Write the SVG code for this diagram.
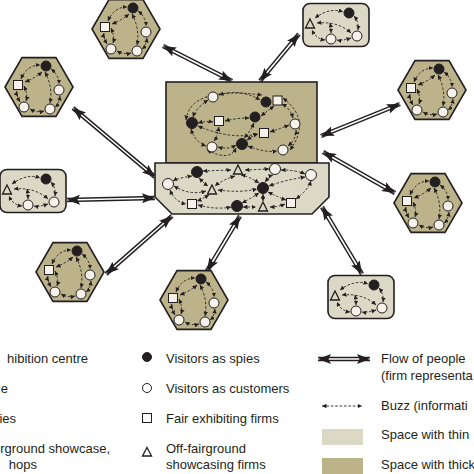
<svg xmlns="http://www.w3.org/2000/svg" xmlns:xlink="http://www.w3.org/1999/xlink" width="474" height="474" viewBox="0 0 474 474">
<style>
.dk{fill:#bdb38b;stroke:#231f20;stroke-width:1.6}
.lt{fill:#dbd8c6;stroke:#231f20;stroke-width:1.6}
.bz{fill:none;stroke:#231f20;stroke-width:0.9;stroke-dasharray:2.6 1.8;marker-start:url(#b);marker-end:url(#b)}
.fc{fill:#231f20;stroke:#231f20;stroke-width:1}
.oc{fill:#f4f2ea;stroke:#231f20;stroke-width:1}
.sq{fill:#f4f2ea;stroke:#231f20;stroke-width:1}
.tr{fill:none;stroke:#231f20;stroke-width:1.3}
.fo{fill:none;stroke:#231f20;stroke-width:4.4}
.fi{fill:none;stroke:#ffffff;stroke-width:1.6}
.fm{fill:none;stroke:none;marker-start:url(#F);marker-end:url(#F)}
text{font-family:"Liberation Sans",Arial,sans-serif;font-size:13px;fill:#231f20}
</style>
<defs>
<marker id="b" viewBox="0 0 6 6" refX="6" refY="3" markerWidth="4.5" markerHeight="4.5" markerUnits="userSpaceOnUse" orient="auto-start-reverse"><path d="M0,0 L6,3 L0,6z" fill="#231f20"/></marker>
<marker id="F" viewBox="0 0 13 10" refX="13" refY="5" markerWidth="13" markerHeight="10" markerUnits="userSpaceOnUse" orient="auto-start-reverse"><path d="M0,0 L13,5 L0,10 L2.5,5z" fill="#231f20"/></marker>
<g id="hx">
<polygon class="dk" points="-34,0 -17,-29.4 17,-29.4 34,0 17,29.4 -17,29.4"/>
<path class="bz" d="M-18,-8 Q-12,-22 1,-22"/>
<path class="bz" d="M12,-18 Q20,-12 20,-3"/>
<path class="bz" d="M21,9 Q20,17 16,20"/>
<path class="bz" d="M5,24 Q-2,26 -9,22"/>
<path class="bz" d="M-19,15 Q-23,8 -22,4"/>
<path class="bz" d="M6,-15 Q14,0 11,16"/>
<path class="bz" d="M-15,-1 Q-11,8 -13,14"/>
<path class="bz" d="M3,-15 Q-4,-9 -14,-5"/>
<circle class="fc" cx="7" cy="-21" r="5"/>
<circle class="oc" cx="20" cy="3" r="5"/>
<circle class="oc" cx="11" cy="22" r="5"/>
<circle class="oc" cx="-15" cy="20" r="5"/>
<rect class="sq" x="-25.5" y="-6.5" width="9" height="9"/>
</g>
<g id="bx">
<rect class="lt" x="-33" y="-21.5" width="66" height="43" rx="7"/>
<path class="bz" d="M-21,-7 Q-6,-18 7,-13"/>
<path class="bz" d="M18,-9 Q23,-3 22,5"/>
<path class="bz" d="M15,13 Q6,16 1,15"/>
<path class="bz" d="M-11,15 Q-20,14 -24,5"/>
<path class="bz" d="M-19,-2 Q2,-4 15,8"/>
<path class="bz" d="M-6,-2 Q-5,3 -5,8"/>
<circle class="fc" cx="13" cy="-12" r="5"/>
<circle class="oc" cx="-5" cy="14" r="5"/>
<circle class="oc" cx="21" cy="11" r="5"/>
<polygon class="tr" points="-26,-6 -21.5,3 -30.5,3"/>
</g>
</defs>

<g id="connectors">
<path class="fo" d="M163,46 L232,81"/><path class="fi" d="M163,46 L232,81"/><path class="fm" d="M163,46 L232,81"/>
<path class="fo" d="M299,34 L260,81"/><path class="fi" d="M299,34 L260,81"/><path class="fm" d="M299,34 L260,81"/>
<path class="fo" d="M73,108 L155,177"/><path class="fi" d="M73,108 L155,177"/><path class="fm" d="M73,108 L155,177"/>
<path class="fo" d="M67,200 L155,198"/><path class="fi" d="M67,200 L155,198"/><path class="fm" d="M67,200 L155,198"/>
<path class="fo" d="M106,274 L172,216"/><path class="fi" d="M106,274 L172,216"/><path class="fm" d="M106,274 L172,216"/>
<path class="fo" d="M207,271 L240,216"/><path class="fi" d="M207,271 L240,216"/><path class="fm" d="M207,271 L240,216"/>
<path class="fo" d="M362,274 L322,207"/><path class="fi" d="M362,274 L322,207"/><path class="fm" d="M362,274 L322,207"/>
<path class="fo" d="M395,193 L323,152"/><path class="fi" d="M395,193 L323,152"/><path class="fm" d="M395,193 L323,152"/>
<path class="fo" d="M400,104 L321,136"/><path class="fi" d="M400,104 L321,136"/><path class="fm" d="M400,104 L321,136"/>
</g>

<g id="exhibition-centre">
<rect class="dk" x="166" y="82" width="151" height="81"/>
<polygon class="lt" points="155,163 329,163 329,197 312,214 172,214 155,197"/>
<path class="bz" d="M219,95 Q240,88 260,100"/>
<path class="bz" d="M208,100 Q196,108 193,117"/>
<path class="bz" d="M198,123 Q206,121 213,122"/>
<path class="bz" d="M191,129 Q195,142 206,146"/>
<path class="bz" d="M218,147 Q228,150 236,145"/>
<path class="bz" d="M247,140 Q254,135 258,134"/>
<path class="bz" d="M248,146 Q265,153 277,151"/>
<path class="bz" d="M288,146 Q297,138 296,130"/>
<path class="bz" d="M293,118 Q290,108 282,104"/>
<path class="bz" d="M274,106 Q266,112 261,116"/>
<path class="bz" d="M249,118 Q236,118 225,121"/>
<path class="bz" d="M219,127 Q217,137 214,141"/>
<path class="bz" d="M198,126 Q230,140 258,134"/>
<path class="bz" d="M270,132 Q282,128 289,125"/>
<path class="bz" d="M254,123 Q250,132 244,138"/>
<path class="bz" d="M186,120 Q190,86 262,95"/>
<path class="bz" d="M283,98 Q312,120 290,150"/>
<path class="bz" d="M207,150 Q230,162 236,148"/>
<circle class="oc" cx="213" cy="97" r="5"/>
<circle class="fc" cx="266" cy="102" r="5"/>
<rect class="sq" x="273" y="96" width="9" height="9"/>
<circle class="fc" cx="255" cy="117" r="5"/>
<circle class="fc" cx="192" cy="123" r="5.5"/>
<rect class="sq" x="214.5" y="116.5" width="9" height="9"/>
<circle class="oc" cx="295" cy="124" r="5"/>
<rect class="sq" x="259.5" y="128.5" width="9" height="9"/>
<circle class="fc" cx="242" cy="144" r="5.5"/>
<circle class="oc" cx="212" cy="147" r="5"/>
<circle class="oc" cx="283" cy="150" r="5"/>
<path class="bz" d="M203,171 L231,170"/>
<path class="bz" d="M245,170 L269,169"/>
<path class="bz" d="M281,170 Q296,170 305,174"/>
<path class="bz" d="M192,176 Q178,178 173,181"/>
<path class="bz" d="M170,190 Q175,202 186,204"/>
<path class="bz" d="M198,205 Q216,210 231,207"/>
<path class="bz" d="M243,207 L256,207"/>
<path class="bz" d="M270,207 Q278,207 285,204"/>
<path class="bz" d="M296,199 Q308,190 311,181"/>
<path class="bz" d="M199,178 Q205,184 208,186"/>
<path class="bz" d="M218,190 Q240,193 257,189"/>
<path class="bz" d="M265,182 Q270,176 273,175"/>
<path class="bz" d="M268,192 Q280,198 286,200"/>
<path class="bz" d="M209,195 Q200,200 197,201"/>
<path class="bz" d="M259,193 Q248,200 242,203"/>
<path class="bz" d="M235,176 Q222,180 215,186"/>
<path class="bz" d="M259,183 Q248,176 241,175"/>
<path class="bz" d="M305,177 Q285,180 269,186"/>
<path class="bz" d="M263,201 L263,194"/>
<path class="bz" d="M174,186 Q190,196 206,191"/>
<circle class="fc" cx="197" cy="172" r="5.5"/>
<polygon class="tr" points="238,165 242.5,174 233.5,174"/>
<circle class="oc" cx="275" cy="169" r="5.5"/>
<circle class="oc" cx="311" cy="175" r="5.5"/>
<circle class="oc" cx="168" cy="184" r="5.5"/>
<polygon class="tr" points="212,185 216.5,194 207.5,194"/>
<circle class="fc" cx="263" cy="188" r="5.5"/>
<rect class="sq" x="187.5" y="199.5" width="9" height="9"/>
<circle class="fc" cx="237" cy="206" r="5.5"/>
<polygon class="tr" points="263,202 267.5,211 258.5,211"/>
<rect class="sq" x="286.5" y="198.5" width="9" height="9"/>
</g>

<g id="hex-a" transform="translate(126,29)"><use xlink:href="#hx" href="#hx"/></g>
<g id="hex-b" transform="translate(39,87)"><use xlink:href="#hx" href="#hx"/></g>
<g id="hex-d" transform="translate(70,272)"><use xlink:href="#hx" href="#hx"/></g>
<g id="hex-e" transform="translate(194,300)"><use xlink:href="#hx" href="#hx"/></g>
<g id="hex-h1" transform="translate(432,90)"><use xlink:href="#hx" href="#hx"/></g>
<g id="hex-h2" transform="translate(428,203)"><use xlink:href="#hx" href="#hx"/></g>
<g id="box-c" transform="translate(33,191)"><use xlink:href="#bx" href="#bx"/></g>
<g id="box-f" transform="translate(336,25)"><use xlink:href="#bx" href="#bx"/></g>
<g id="box-g" transform="translate(361,297)"><use xlink:href="#bx" href="#bx"/></g>

<g id="legend">
<text x="88" y="363" text-anchor="end">hibition centre</text>
<text x="8" y="393" text-anchor="end">e</text>
<text x="16" y="423" text-anchor="end">ies</text>
<text x="110" y="453" text-anchor="end">rground showcase,</text>
<text x="37" y="469" text-anchor="end">hops</text>
<circle class="fc" cx="147" cy="357" r="4.5"/>
<circle class="oc" cx="147" cy="388" r="4.5" style="fill:#fff"/>
<rect class="sq" x="142.5" y="413.5" width="9" height="9" style="fill:#fff"/>
<polygon class="tr" points="147,447.5 151.5,456 142.5,456"/>
<text x="166" y="363">Visitors as spies</text>
<text x="166" y="393">Visitors as customers</text>
<text x="166" y="423">Fair exhibiting firms</text>
<text x="166" y="453">Off-fairground</text>
<text x="166" y="469">showcasing firms</text>
<path class="fo" d="M318,359 L370,359"/><path class="fi" d="M318,359 L370,359"/><path class="fm" d="M318,359 L370,359"/>
<text x="381" y="363">Flow of people</text>
<text x="381" y="380">(firm representa</text>
<path class="bz" d="M322,406 L362,406"/>
<text x="381" y="410">Buzz (informati</text>
<rect x="322" y="429" width="41" height="16" fill="#dbd8c6"/>
<text x="381" y="439">Space with thin</text>
<rect x="322" y="458" width="41" height="17" fill="#bdb38b"/>
<text x="381" y="469">Space with thick</text>
</g>
</svg>
